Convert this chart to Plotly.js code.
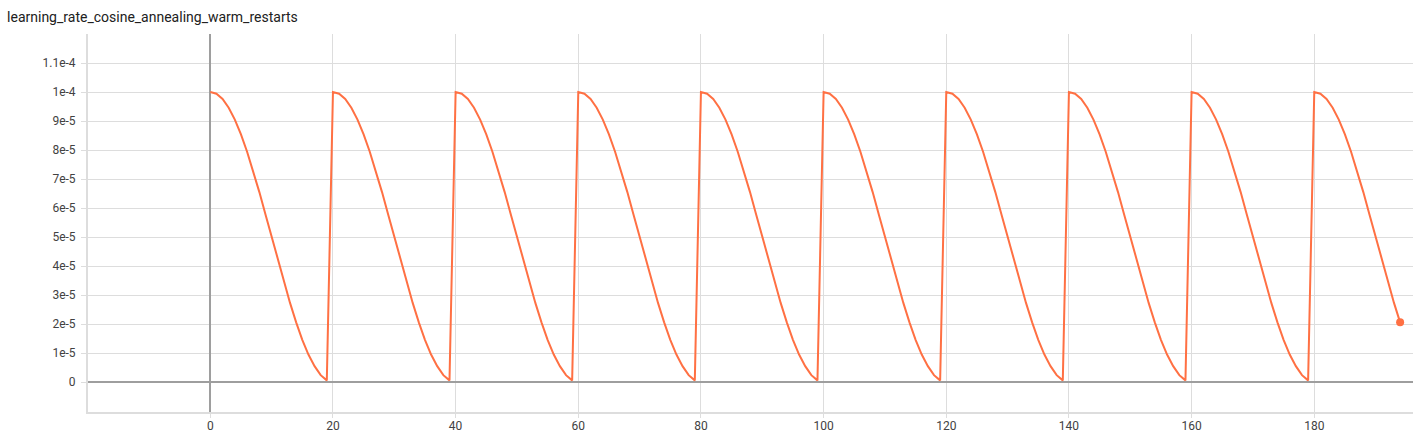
<!DOCTYPE html>
<html>
<head>
<meta charset="utf-8">
<script src="https://cdn.plot.ly/plotly-3.0.1.min.js"></script>
<style>
  html, body { margin: 0; padding: 0; background: #fff; }
  #plot { width: 1413px; height: 435px; }
</style>
</head>
<body>
<div id="plot"></div>
<script>
/* global Plotly */
const CHART_TITLE = 'learning_rate_cosine_annealing_warm_restarts'

// step 0..194, one row per restart cycle
const learningRates = [
  1.0e-4, 9.94e-5, 9.76e-5, 9.46e-5, 9.05e-5, 8.54e-5, 7.94e-5, 7.27e-5, 6.55e-5, 5.78e-5, 5.0e-5, 4.22e-5, 3.45e-5, 2.73e-5, 2.06e-5, 1.46e-5, 9.5e-6, 5.5e-6, 2.4e-6, 6e-7,
  1.0e-4, 9.94e-5, 9.76e-5, 9.46e-5, 9.05e-5, 8.54e-5, 7.94e-5, 7.27e-5, 6.55e-5, 5.78e-5, 5.0e-5, 4.22e-5, 3.45e-5, 2.73e-5, 2.06e-5, 1.46e-5, 9.5e-6, 5.5e-6, 2.4e-6, 6e-7,
  1.0e-4, 9.94e-5, 9.76e-5, 9.46e-5, 9.05e-5, 8.54e-5, 7.94e-5, 7.27e-5, 6.55e-5, 5.78e-5, 5.0e-5, 4.22e-5, 3.45e-5, 2.73e-5, 2.06e-5, 1.46e-5, 9.5e-6, 5.5e-6, 2.4e-6, 6e-7,
  1.0e-4, 9.94e-5, 9.76e-5, 9.46e-5, 9.05e-5, 8.54e-5, 7.94e-5, 7.27e-5, 6.55e-5, 5.78e-5, 5.0e-5, 4.22e-5, 3.45e-5, 2.73e-5, 2.06e-5, 1.46e-5, 9.5e-6, 5.5e-6, 2.4e-6, 6e-7,
  1.0e-4, 9.94e-5, 9.76e-5, 9.46e-5, 9.05e-5, 8.54e-5, 7.94e-5, 7.27e-5, 6.55e-5, 5.78e-5, 5.0e-5, 4.22e-5, 3.45e-5, 2.73e-5, 2.06e-5, 1.46e-5, 9.5e-6, 5.5e-6, 2.4e-6, 6e-7,
  1.0e-4, 9.94e-5, 9.76e-5, 9.46e-5, 9.05e-5, 8.54e-5, 7.94e-5, 7.27e-5, 6.55e-5, 5.78e-5, 5.0e-5, 4.22e-5, 3.45e-5, 2.73e-5, 2.06e-5, 1.46e-5, 9.5e-6, 5.5e-6, 2.4e-6, 6e-7,
  1.0e-4, 9.94e-5, 9.76e-5, 9.46e-5, 9.05e-5, 8.54e-5, 7.94e-5, 7.27e-5, 6.55e-5, 5.78e-5, 5.0e-5, 4.22e-5, 3.45e-5, 2.73e-5, 2.06e-5, 1.46e-5, 9.5e-6, 5.5e-6, 2.4e-6, 6e-7,
  1.0e-4, 9.94e-5, 9.76e-5, 9.46e-5, 9.05e-5, 8.54e-5, 7.94e-5, 7.27e-5, 6.55e-5, 5.78e-5, 5.0e-5, 4.22e-5, 3.45e-5, 2.73e-5, 2.06e-5, 1.46e-5, 9.5e-6, 5.5e-6, 2.4e-6, 6e-7,
  1.0e-4, 9.94e-5, 9.76e-5, 9.46e-5, 9.05e-5, 8.54e-5, 7.94e-5, 7.27e-5, 6.55e-5, 5.78e-5, 5.0e-5, 4.22e-5, 3.45e-5, 2.73e-5, 2.06e-5, 1.46e-5, 9.5e-6, 5.5e-6, 2.4e-6, 6e-7,
  1.0e-4, 9.94e-5, 9.76e-5, 9.46e-5, 9.05e-5, 8.54e-5, 7.94e-5, 7.27e-5, 6.55e-5, 5.78e-5, 5.0e-5, 4.22e-5, 3.45e-5, 2.73e-5, 2.06e-5
]
const steps = learningRates.map((_, i) => i)

const xTickVals = [0, 20, 40, 60, 80, 100, 120, 140, 160, 180]
const yTickVals = [0, 1e-5, 2e-5, 3e-5, 4e-5, 5e-5, 6e-5, 7e-5, 8e-5, 9e-5, 1e-4, 1.1e-4]
const yTickText = ['0', '1e-5', '2e-5', '3e-5', '4e-5', '5e-5', '6e-5', '7e-5', '8e-5', '9e-5', '1e-4', '1.1e-4']

const LINE_COLOR = '#ff7043'
const GRID = '#dddddd'
const AXIS_DARK = '#9e9e9e'

const lastStep = steps[steps.length - 1]
const lastValue = learningRates[learningRates.length - 1]

const traces = [
  {x: steps, y: learningRates, mode: 'lines', type: 'scatter',
   line: {color: LINE_COLOR, width: 2}, hoverinfo: 'x+y'},
  {x: [lastStep], y: [lastValue], mode: 'markers', type: 'scatter',
   marker: {color: LINE_COLOR, size: 8}, hoverinfo: 'x+y'}
]

const layout = {
  width: 1413,
  height: 435,
  margin: {l: 88, r: 0, t: 34, b: 23},
  paper_bgcolor: '#fff',
  plot_bgcolor: '#fff',
  showlegend: false,
  font: {family: 'Roboto, sans-serif', size: 12, color: '#424242'},
  title: {text: CHART_TITLE, x: 0.005, xanchor: 'left', y: 0.96, yanchor: 'middle',
          font: {family: 'Roboto, sans-serif', size: 14, color: '#212121'}},
  xaxis: {
    range: [-19.94, 196.1],
    tickvals: xTickVals,
    showgrid: true, gridcolor: GRID, gridwidth: 1,
    zeroline: true, zerolinecolor: AXIS_DARK, zerolinewidth: 2,
    showline: true, linecolor: GRID, linewidth: 2,
    ticks: 'outside', ticklen: 4, tickcolor: GRID, tickwidth: 1, ticklabelstandoff: -2,
    tickfont: {size: 12, color: '#424242'}
  },
  yaxis: {
    range: [-1.03e-5, 1.2e-4],
    tickvals: yTickVals,
    ticktext: yTickText,
    showgrid: true, gridcolor: GRID, gridwidth: 1,
    zeroline: true, zerolinecolor: AXIS_DARK, zerolinewidth: 2,
    showline: true, linecolor: GRID, linewidth: 2,
    ticks: 'outside', ticklen: 5, tickcolor: GRID, tickwidth: 1, ticklabelstandoff: 3,
    tickfont: {size: 12, color: '#424242'}
  }
}

Plotly.newPlot('plot', traces, layout, {displayModeBar: false, staticPlot: true})
</script>
</body>
</html>
